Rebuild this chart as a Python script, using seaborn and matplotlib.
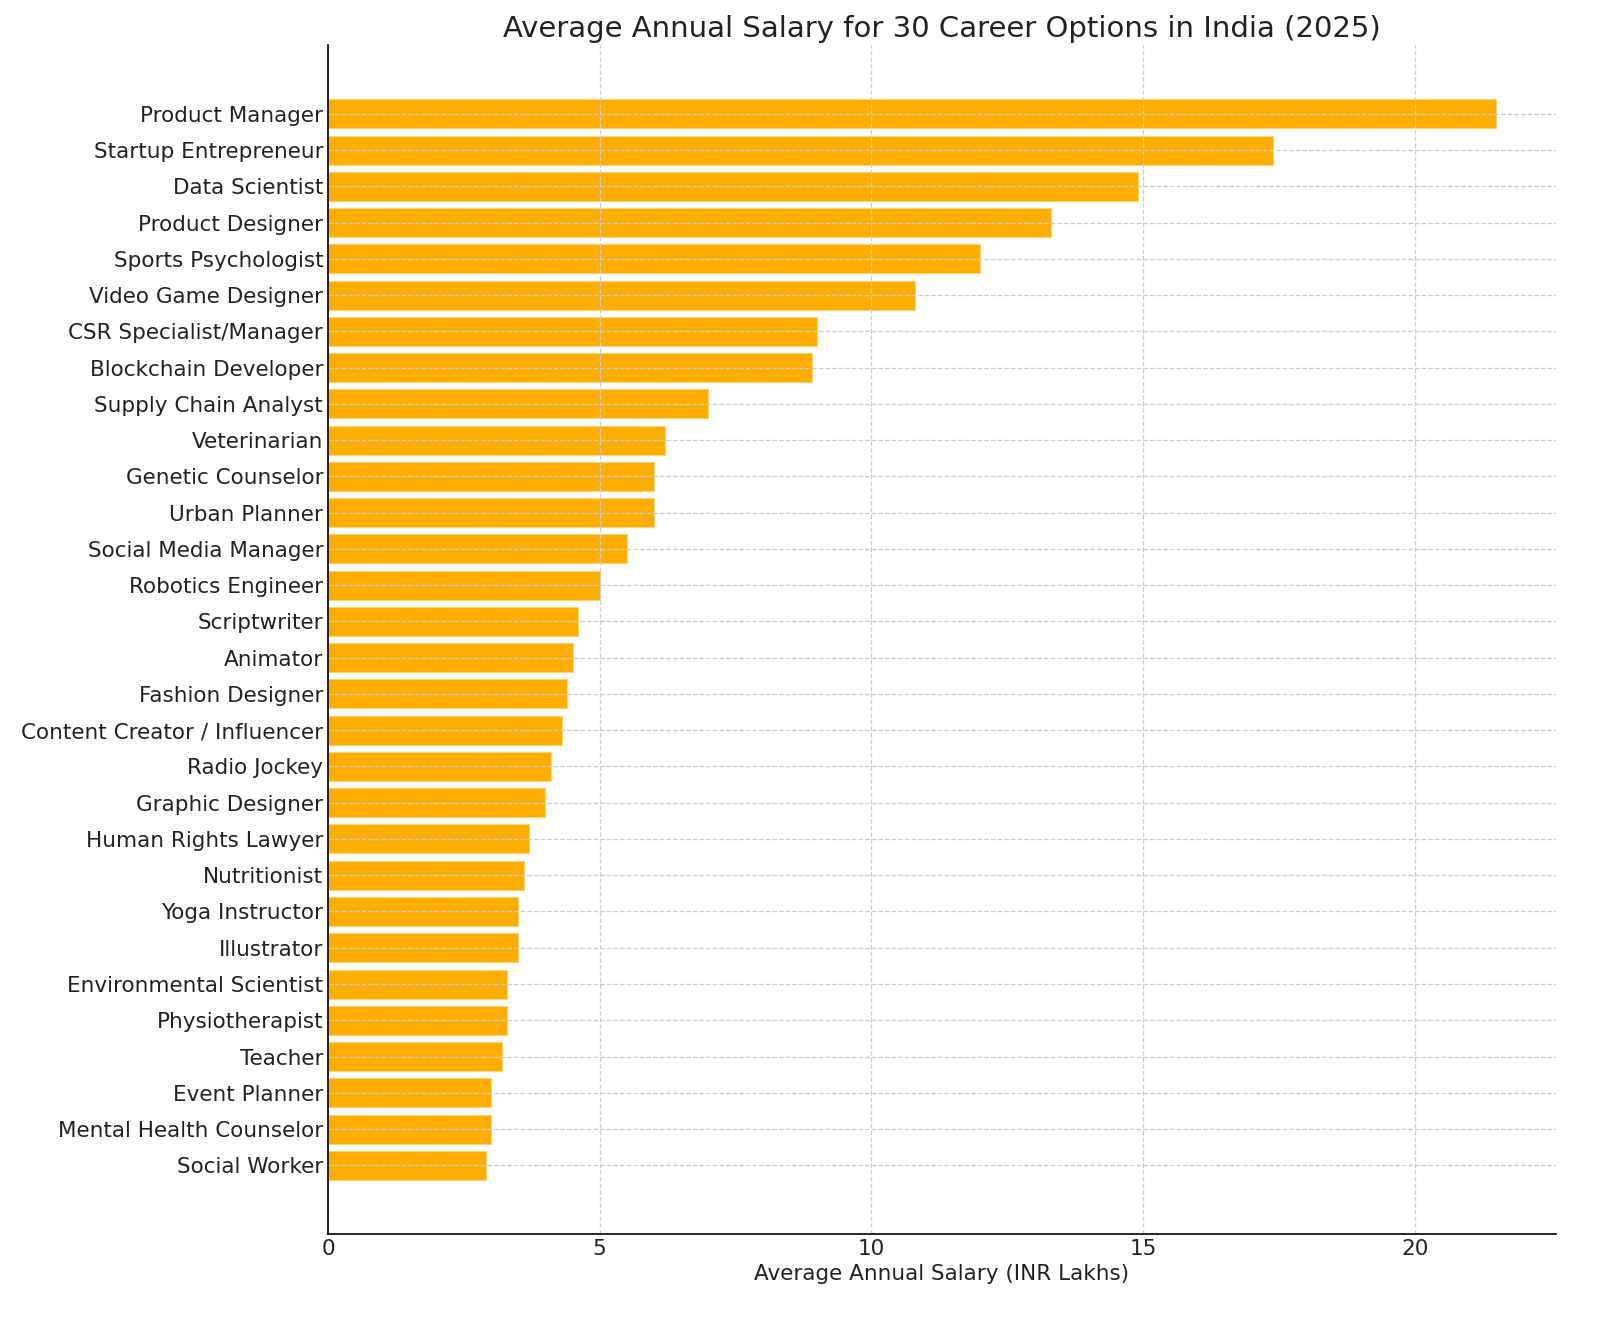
import matplotlib
matplotlib.use("Agg")
import numpy as np
import pandas as pd
import seaborn as sns
from matplotlib import pyplot as plt

careers = [
    "Product Manager",
    "Startup Entrepreneur",
    "Data Scientist",
    "Product Designer",
    "Sports Psychologist",
    "Video Game Designer",
    "CSR Specialist/Manager",
    "Blockchain Developer",
    "Supply Chain Analyst",
    "Veterinarian",
    "Genetic Counselor",
    "Urban Planner",
    "Social Media Manager",
    "Robotics Engineer",
    "Scriptwriter",
    "Animator",
    "Fashion Designer",
    "Content Creator / Influencer",
    "Radio Jockey",
    "Graphic Designer",
    "Human Rights Lawyer",
    "Nutritionist",
    "Yoga Instructor",
    "Illustrator",
    "Environmental Scientist",
    "Physiotherapist",
    "Teacher",
    "Event Planner",
    "Mental Health Counselor",
    "Social Worker",
]
salary_lakhs = [
    21.5, 17.4, 14.9, 13.3, 12.0, 10.8, 9.0, 8.9, 7.0, 6.2,
    6.0, 6.0, 5.5, 5.0, 4.6, 4.5, 4.4, 4.3, 4.1, 4.0,
    3.7, 3.6, 3.5, 3.5, 3.3, 3.3, 3.2, 3.0, 3.0, 2.9,
]

df = pd.DataFrame({"career": careers, "salary": salary_lakhs})

sns.set_theme(style="white")
plt.rcParams["font.family"] = ["DejaVu Sans"]

fig, ax = plt.subplots(figsize=(16, 13.31), dpi=100)
sns.barplot(
    data=df, x="salary", y="career", color="#FDAD00", saturation=1,
    width=0.8, edgecolor="#FFD27A", linewidth=0.8, ax=ax,
)
ax.margins(y=0.05)
ax.set_xlim(0, 22.6)
ax.set_title("Average Annual Salary for 30 Career Options in India (2025)",
             fontsize=21, color="#222222")
ax.set_xlabel("Average Annual Salary (INR Lakhs)", fontsize=15.5, color="#222222")
ax.set_ylabel("")
ax.tick_params(axis="both", labelsize=15.5, direction="in", length=4,
               color="#222222", labelcolor="#222222")
ax.grid(True, linestyle="--", color="#cccccc", linewidth=0.9)
ax.set_axisbelow(False)
for side in ["top", "right"]:
    ax.spines[side].set_visible(False)
for side in ["left", "bottom"]:
    ax.spines[side].set_color("black")
    ax.spines[side].set_linewidth(1.2)
    ax.spines[side].set_zorder(5)

fig.subplots_adjust(left=0.205, right=0.9725, top=0.966, bottom=0.073)
fig.savefig("out.png", dpi=100)
